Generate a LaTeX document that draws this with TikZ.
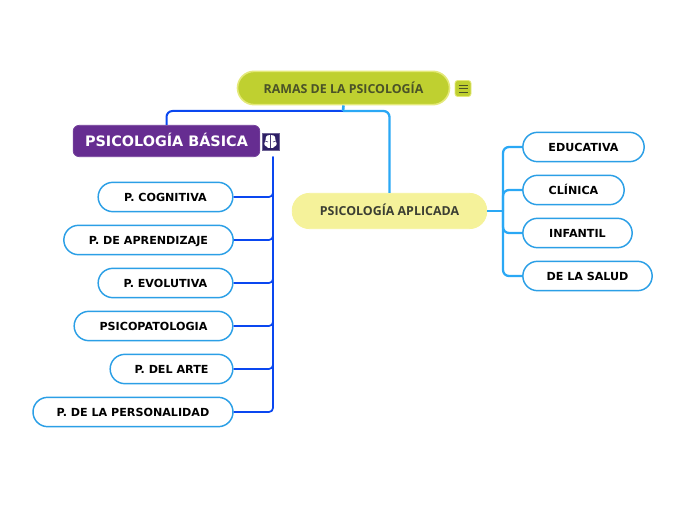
\documentclass[tikz,border=0pt]{standalone}
\usepackage{fontspec}
\setmainfont{DejaVu Sans}
\newfontfamily\titlefont{Open Sans}
\definecolor{rootfill}{HTML}{BFD030}
\definecolor{rootedge}{HTML}{E4E97A}
\definecolor{roottext}{HTML}{4A5228}
\definecolor{basicfill}{HTML}{662D91}
\definecolor{iconfill}{HTML}{2E1F66}
\definecolor{appliedfill}{HTML}{F5F29A}
\definecolor{appliedtext}{HTML}{3C3F33}
\definecolor{leafedge}{HTML}{2B9FE6}
\definecolor{darkline}{HTML}{0A47F0}
\definecolor{lightline}{HTML}{2AA8F5}
\tikzset{
  leaf/.style={draw=leafedge, fill=white, line width=1.1pt, rounded corners=11pt, minimum height=22pt, inner xsep=0pt, text height=7.2pt, text depth=0pt, font=\fontsize{8.35}{10}\selectfont\bfseries, text=black},
  darkwire/.style={darkline, line width=1.3pt, rounded corners=3pt},
  lightwire/.style={lightline, line width=1.7pt, rounded corners=4.5pt},
}
\begin{document}
\begin{tikzpicture}[x=0.75pt, y=-0.75pt]
  \useasboundingbox (0,0) rectangle (696,520);
  % main nodes
  \node[draw=rootedge, fill=rootfill, line width=1.2pt, rounded corners=12.5pt, minimum width=159pt, minimum height=25pt, inner sep=0pt, font=\titlefont\fontsize{9.3}{11}\selectfont\bfseries, text=roottext] (root) at (343.5,88) {RAMAS DE LA PSICOLOGÍA};
  \node[draw=basicfill!90!white, fill=basicfill, line width=0.6pt, rounded corners=4.5pt, minimum width=140pt, minimum height=23.5pt, inner sep=0pt, text height=8pt, text depth=0pt, font=\fontsize{10.8}{12}\selectfont\bfseries, text=white] (basic) at (166.5,141) {PSICOLOGÍA BÁSICA};
  \node[draw=appliedfill, fill=appliedfill, line width=0.6pt, rounded corners=13pt, minimum width=146pt, minimum height=26.5pt, inner sep=0pt, text height=7.5pt, text depth=0pt, font=\titlefont\fontsize{9.3}{11}\selectfont\bfseries, text=appliedtext] (applied) at (389.5,211) {PSICOLOGÍA APLICADA};
  % left leaves
  \node[leaf, minimum width=101pt] (cognitive) at (165.5,197) {P. COGNITIVA};
  \node[leaf, minimum width=127pt] (learning) at (148.5,240) {P. DE APRENDIZAJE};
  \node[leaf, minimum width=101pt] (evolutive) at (165.5,283) {P. EVOLUTIVA};
  \node[leaf, minimum width=119pt] (pathology) at (153.5,326) {PSICOPATOLOGIA};
  \node[leaf, minimum width=92pt] (art) at (171.5,369) {P. DEL ARTE};
  \node[leaf, minimum width=150pt] (personality) at (133,412) {P. DE LA PERSONALIDAD};
  % right leaves
  \node[leaf, minimum width=91pt] (education) at (583.5,147) {EDUCATIVA};
  \node[leaf, minimum width=76pt] (clinic) at (573.5,190) {CLÍNICA};
  \node[leaf, minimum width=82pt] (infant) at (577.5,233) {INFANTIL};
  \node[leaf, minimum width=97pt] (health) at (587.5,276) {DE LA SALUD};
  % icons
  \node[draw=rootedge, fill=rootfill, line width=0.6pt, rounded corners=2pt, minimum size=12pt, inner sep=0pt] (menuicon) at (463,88.5) {};
  \draw[roottext, line width=0.6pt] (458.5,85) -- (467.5,85);
  \draw[roottext, line width=0.6pt] (458.5,88.5) -- (467.5,88.5);
  \draw[roottext, line width=0.6pt] (458.5,92) -- (467.5,92);
  \node[draw=iconfill!70!white, fill=iconfill, line width=0.4pt, minimum size=12.5pt, inner sep=0pt] (brainicon) at (270.5,141.5) {};
  \fill[white] (270,135) .. controls (266,135) and (265,138) .. (265.5,140) .. controls (263.5,142) and (264,146) .. (266.5,146.5) .. controls (267,148) and (269,148.5) .. (270,148) -- cycle;
  \fill[white] (271,135) .. controls (275,135) and (276,138) .. (275.5,140) .. controls (277.5,142) and (277,146) .. (274.5,146.5) .. controls (274,148) and (272,148.5) .. (271,148) -- cycle;
  \draw[iconfill, line width=0.4pt] (265,141) -- (268,142);
  \draw[iconfill, line width=0.4pt] (276,141) -- (273,142);
  % connectors
  \coordinate (fork) at (343,111);
  \coordinate (lefttrunk) at (273,157);
  \coordinate (righthub) at (503,211);
  \draw[darkwire, line width=1.5pt, rounded corners=4.5pt] (fork) -| (basic.north);
  \draw[lightwire] (fork) -| (applied.north);
  \draw[lightline, line width=2pt] (root.south) -- (fork);
  \draw[darkwire] (lefttrunk) |- (cognitive.east);
  \draw[darkwire] (lefttrunk) |- (learning.east);
  \draw[darkwire] (lefttrunk) |- (evolutive.east);
  \draw[darkwire] (lefttrunk) |- (pathology.east);
  \draw[darkwire] (lefttrunk) |- (art.east);
  \draw[darkwire] (lefttrunk) |- (personality.east);
  \draw[lightwire] (applied.east) -- (righthub);
  \draw[lightwire] (righthub) |- (education.west);
  \draw[lightwire] (righthub) |- (clinic.west);
  \draw[lightwire] (righthub) |- (infant.west);
  \draw[lightwire] (righthub) |- (health.west);
\end{tikzpicture}
\end{document}
